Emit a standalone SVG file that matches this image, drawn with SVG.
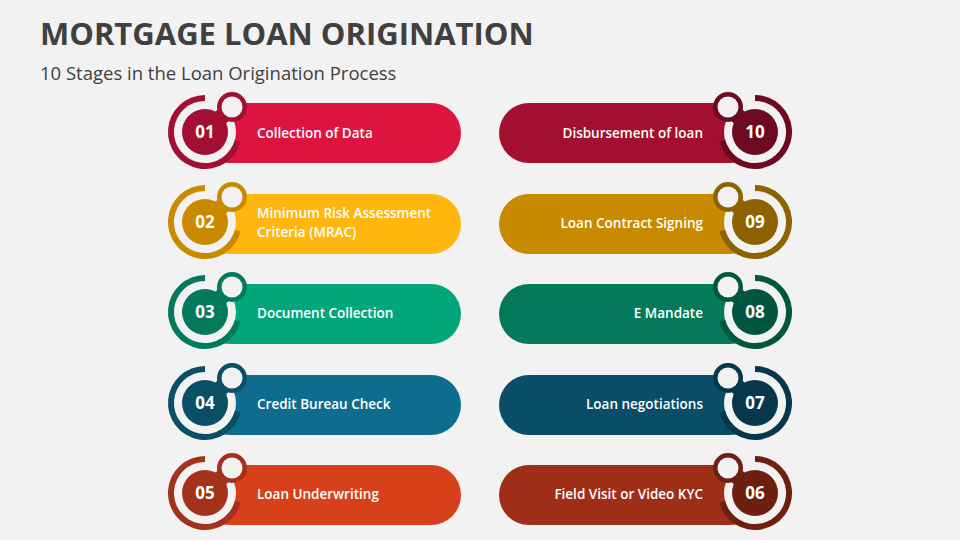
<svg xmlns="http://www.w3.org/2000/svg" width="960" height="540" viewBox="0 0 960 540">
<style>
.t{font-family:"Open Sans","Liberation Sans",sans-serif;font-weight:600;font-size:13.5px;fill:#fff}
.n{font-family:"Open Sans","Liberation Sans",sans-serif;font-weight:700;font-size:17px;fill:#fff;text-anchor:middle}
</style>
<defs>
<g id="ic">
<circle r="31" fill="#f2f2f2"/>
<path d="M35.7,9.6 A37,37 0 1 1 0,-37 L0,-31 A31,31 0 1 0 29.9,8 Z" fill="currentColor"/>
<line x1="0" y1="0" x2="27" y2="-25" stroke="currentColor" stroke-width="16"/>
<circle r="23" fill="currentColor"/>
<circle cx="27" cy="-25" r="15" fill="currentColor"/>
<circle cx="27" cy="-25" r="10.5" fill="#f2f2f2"/>
</g>
</defs>
<rect width="960" height="540" fill="#f2f2f2"/>
<text x="40" y="45" font-family="Open Sans,Liberation Sans,sans-serif" font-weight="700" font-size="31" fill="#404040">MORTGAGE LOAN ORIGINATION</text>
<text x="40" y="80" font-family="Open Sans,Liberation Sans,sans-serif" font-size="18.5" fill="#404040">10 Stages in the Loan Origination Process</text>
<g id="s01" color="#a30e33"><rect x="200" y="103" width="261" height="60" rx="30" fill="#dc143f"/><use href="#ic" transform="translate(205,132)"/><text class="n" x="205" y="138">01</text><text class="t" x="257" y="138">Collection of Data</text></g>
<g id="s02" color="#c98a00"><rect x="200" y="194" width="261" height="60" rx="30" fill="#ffb60f"/><use href="#ic" transform="translate(205,222)"/><text class="n" x="205" y="228">02</text><text class="t" x="257" y="218">Minimum Risk Assessment</text><text class="t" x="257" y="237">Criteria (MRAC)</text></g>
<g id="s03" color="#037a5b"><rect x="200" y="284" width="261" height="60" rx="30" fill="#03a57b"/><use href="#ic" transform="translate(205,312)"/><text class="n" x="205" y="318">03</text><text class="t" x="257" y="318">Document Collection</text></g>
<g id="s04" color="#0b4f66"><rect x="200" y="375" width="261" height="60" rx="30" fill="#0e6d8e"/><use href="#ic" transform="translate(205,403)"/><text class="n" x="205" y="409">04</text><text class="t" x="257" y="409">Credit Bureau Check</text></g>
<g id="s05" color="#a3321a"><rect x="200" y="465" width="261" height="60" rx="30" fill="#d6411c"/><use href="#ic" transform="translate(205,493)"/><text class="n" x="205" y="499">05</text><text class="t" x="257" y="499">Loan Underwriting</text></g>
<g id="s10" color="#6e0a20"><rect x="499" y="103" width="261" height="60" rx="30" fill="#a3102f"/><use href="#ic" transform="translate(755,132) scale(-1,1)"/><text class="n" x="755" y="138">10</text><text class="t" x="703" y="138" text-anchor="end">Disbursement of loan</text></g>
<g id="s09" color="#8f6200"><rect x="499" y="194" width="261" height="60" rx="30" fill="#c98a00"/><use href="#ic" transform="translate(755,222) scale(-1,1)"/><text class="n" x="755" y="228">09</text><text class="t" x="703" y="228" text-anchor="end">Loan Contract Signing</text></g>
<g id="s08" color="#02563f"><rect x="499" y="284" width="261" height="60" rx="30" fill="#047a5b"/><use href="#ic" transform="translate(755,312) scale(-1,1)"/><text class="n" x="755" y="318">08</text><text class="t" x="703" y="318" text-anchor="end">E Mandate</text></g>
<g id="s07" color="#07374a"><rect x="499" y="375" width="261" height="60" rx="30" fill="#0a4d66"/><use href="#ic" transform="translate(755,403) scale(-1,1)"/><text class="n" x="755" y="409">07</text><text class="t" x="703" y="409" text-anchor="end">Loan negotiations</text></g>
<g id="s06" color="#6e1f10"><rect x="499" y="465" width="261" height="60" rx="30" fill="#9e2e17"/><use href="#ic" transform="translate(755,493) scale(-1,1)"/><text class="n" x="755" y="499">06</text><text class="t" x="703" y="499" text-anchor="end">Field Visit or Video KYC</text></g>
<g id="connectors"/>
</svg>
